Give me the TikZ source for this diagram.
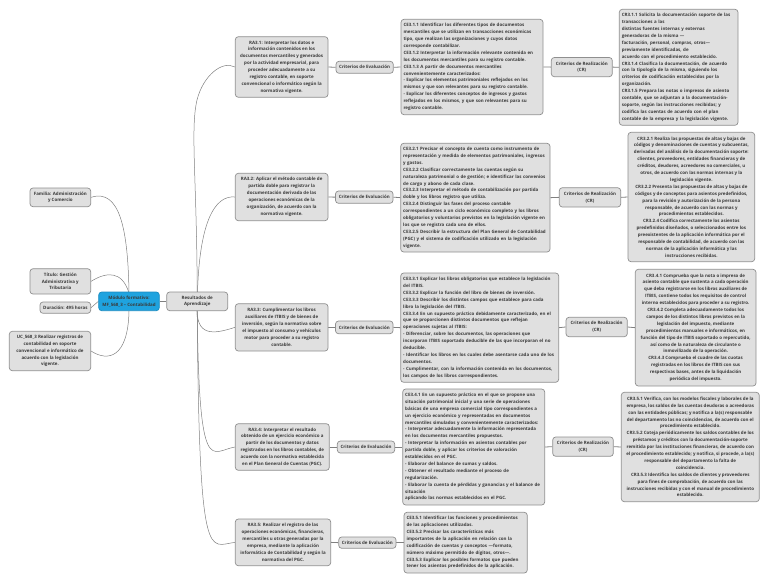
\documentclass[tikz,border=0pt]{standalone}
\usepackage{fontspec}
\setmainfont{Open Sans}
\usetikzlibrary{backgrounds}
\definecolor{boxfill}{HTML}{E0E0E0}
\definecolor{boxline}{HTML}{8F8F8F}
\definecolor{boxtext}{HTML}{3A3A3A}
\definecolor{corefill}{HTML}{1FA3DF}
\definecolor{coreline}{HTML}{1B8CC0}
\definecolor{linkgray}{HTML}{808080}
\tikzset{
  base/.style={rounded corners=3pt,draw=boxline,line width=0.7pt,fill=boxfill,text=boxtext,inner sep=0pt,
    font=\fontsize{4.45}{6.9}\selectfont\bfseries},
  cbox/.style={base,align=center},
  lbox/.style={base,align=left},
  core/.style={base,align=center,fill=corefill,draw=coreline},
  link/.style={draw=linkgray,line width=0.8pt},
  curve/.style={draw=linkgray,line width=0.5pt}
}
\newcommand{\bx}[7][cbox]{\node[#1,minimum width={(#5-#3)*1pt},minimum height={(#6-#4)*1pt}] (#2) at ({(#3+#5)/2},{(#4+#6)/2}) {#7};}
\newcommand{\lx}[6]{\node[lbox,text width={(#4-#2-5)*1pt},minimum height={(#5-#3)*1pt},inner xsep=2.5pt] (#1) at ({(#2+#4)/2},{(#3+#5)/2}) {#6};}
\begin{document}
\begin{tikzpicture}[x=1pt,y=-1pt]
\useasboundingbox (0,0) rectangle (768,582);

\bx[core]{core}{98.7}{292}{159.3}{310.7}{Módulo formativo:\\MF\_568\_3 – Contabilidad}
\bx{res}{166.7}{292}{227.7}{310.7}{Resultados de\\Aprendizaje}
\bx{fam}{30}{188}{90.7}{206.7}{Familia: Administración\\y Comercio}
\bx{tit}{30}{268.7}{90.7}{294}{Título: Gestión\\Administrativa y\\Tributaria}
\bx{dur}{40}{302}{90.7}{313.3}{Duración: 495 horas}
\bx{uc}{9.3}{331.3}{90.7}{370.7}{UC\_568\_3 Realizar registros de\\contabilidad en soporte\\convencional e informático de\\acuerdo con la legislación\\vigente.}

\bx{ra1}{235.3}{36.7}{328}{97.3}{RA3.1: Interpretar los datos e\\información contenidos en los\\documentos mercantiles y generados\\por la actividad empresarial, para\\proceder adecuadamente a su\\registro contable, en soporte\\convencional o informático según la\\normativa vigente.}
\bx{ce1c}{336}{61.3}{393.3}{73.3}{Criterios de Evaluación}
\lx{ce1}{401}{19.3}{543}{114.7}{CE3.1.1 Identificar los diferentes tipos de documentos\\mercantiles que se utilizan en transacciones económicas\\tipo, que realizan las organizaciones y cuyos datos\\corresponde contabilizar.\\CE3.1.2 Interpretar la información relevante contenida en\\los documentos mercantiles para su registro contable.\\CE3.1.3 A partir de documentos mercantiles\\convenientemente caracterizados:\\- Explicar los elementos patrimoniales reflejados en los\\mismos y que son relevantes para su registro contable.\\- Explicar los diferentes conceptos de ingresos y gastos\\reflejados en los mismos, y que son relevantes para su\\registro contable.}
\bx{cr1c}{551.3}{57.5}{612.3}{76.7}{Criterios de Realización\\(CR)}
\lx{cr1}{619.3}{9.3}{738}{125.3}{CR3.1.1 Solicita la documentación soporte de las\\transacciones a las\\distintas fuentes internas y externas\\generadoras de la misma —\\facturación, personal, compras, otros—\\previamente identificadas, de\\acuerdo con el procedimiento establecido.\\CR3.1.4 Clasifica la documentación, de acuerdo\\con la tipología de la misma, siguiendo los\\criterios de codificación establecidos por la\\organización.\\CR3.1.5 Prepara las notas o impresos de asiento\\contable, que se adjuntan a la documentación-\\soporte, según las instrucciones recibidas; y\\codifica las cuentas de acuerdo con el plan\\contable de la empresa y la legislación vigente.}

\bx{ra2}{235.3}{173.3}{328}{220.7}{RA3.2: Aplicar el método contable de\\partida doble para registrar la\\documentación derivada de las\\operaciones económicas de la\\organización, de acuerdo con la\\normativa vigente.}
\bx{ce2c}{335.5}{191}{393}{203.3}{Criterios de Evaluación}
\lx{ce2}{400.7}{143.3}{550}{252}{CE3.2.1 Precisar el concepto de cuenta como instrumento de\\representación y medida de elementos patrimoniales, ingresos\\y gastos.\\CE3.2.2 Clasificar correctamente las cuentas según su\\naturaleza patrimonial o de gestión; e identificar las convenios\\de cargo y abono de cada clase.\\CE3.2.3 Interpretar el método de contabilización por partida\\doble y los libros registro que utiliza.\\CE3.2.4 Distinguir las fases del proceso contable\\correspondientes a un ciclo económico completo y los libros\\obligatorios y voluntarios previstos en la legislación vigente en\\los que se registra cada uno de ellos.\\CE3.2.5 Describir la estructura del Plan General de Contabilidad\\(PGC) y el sistema de codificación utilizado en la legislación\\vigente.}
\bx{cr2c}{559.3}{187.7}{620.7}{207}{Criterios de Realización\\(CR)}
\bx{cr2}{628}{132.3}{754.7}{261.7}{CR3.2.1 Realiza las propuestas de altas y bajas de\\códigos y denominaciones de cuentas y subcuentas,\\derivadas del análisis de la documentación soporte:\\clientes, proveedores, entidades financieras y de\\créditos, deudores, acreedores no comerciales, u\\otros, de acuerdo con las normas internas y la\\legislación vigente.\\CR3.2.2 Presenta las propuestas de altas y bajas de\\códigos y de conceptos para asientos predefinidos,\\para la revisión y autorización de la persona\\responsable, de acuerdo con las normas y\\procedimientos establecidos.\\CR3.2.4 Codifica correctamente los asientos\\predefinidos diseñados, o seleccionados entre los\\preexistentes de la aplicación informática por el\\responsable de contabilidad, de acuerdo con las\\normas de la aplicación informática y las\\instrucciones recibidas.}

\bx{ra3}{235.3}{303.7}{328}{351}{RA3.3: Cumplimentar los libros\\auxiliares de ITBIS y de bienes de\\inversión, según la normativa sobre\\el impuesto al consumo y vehículos\\motor para proceder a su registro\\contable.}
\bx{ce3c}{335.5}{321}{393}{333.7}{Criterios de Evaluación}
\lx{ce3}{400.7}{273}{558.7}{382.3}{CE3.3.1 Explicar los libros obligatorios que establece la legislación\\del ITBIS.\\CE3.3.2 Explicar la función del libro de bienes de inversión.\\CE3.3.3 Describir los distintos campos que establece para cada\\libro la legislación del ITBIS.\\CE3.3.4 En un supuesto práctico debidamente caracterizado, en el\\que se proporcionen distintos documentos que reflejan\\operaciones sujetas al ITBIS:\\- Diferenciar, sobre los documentos, las operaciones que\\incorporan ITBIS soportado deducible de las que incorporan el no\\deducible.\\- Identificar los libros en los cuales debe asentarse cada uno de los\\documentos.\\- Cumplimentar, con la información contenida en los documentos,\\los campos de los libros correspondientes.}
\bx{cr3c}{566}{317.3}{627.3}{336.7}{Criterios de Realización\\(CR)}
\bx{cr3}{635.3}{269.3}{756}{386}{CR3.4.1 Comprueba que la nota o impreso de\\asiento contable que sustenta a cada operación\\que deba registrarse en los libros auxiliares de\\ITBIS, contiene todos los requisitos de control\\interno establecidos para proceder a su registro.\\CR3.4.2 Completa adecuadamente todos los\\campos de los distintos libros previstos en la\\legislación del impuesto, mediante\\procedimientos manuales e informáticos, en\\función del tipo de ITBIS soportado o repercutido,\\así como de la naturaleza de circulante o\\inmovilizado de la operación.\\CR3.4.3 Comprueba el cuadre de las cuotas\\registradas en los libros de ITBIS con sus\\respectivas bases, antes de la liquidación\\periódica del impuesto.}

\bx{ra4}{235.3}{423.7}{329.3}{470.3}{RA3.4: Interpretar el resultado\\obtenido de un ejercicio económico a\\partir de los documentos y datos\\registrados en los libros contables, de\\acuerdo con la normativa establecida\\en el Plan General de Cuentas (PGC).}
\bx{ce4c}{337.3}{441}{394.7}{453}{Criterios de Evaluación}
\lx{ce4}{402.7}{389}{544.7}{505}{CE3.4.1 En un supuesto práctico en el que se propone una\\situación patrimonial inicial y una serie de operaciones\\básicas de una empresa comercial tipo correspondientes a\\un ejercicio económico y representadas en documentos\\mercantiles simulados y convenientemente caracterizados:\\- Interpretar adecuadamente la información representada\\en los documentos mercantiles propuestos.\\- Interpretar la información en asientos contables por\\partida doble, y aplicar los criterios de valoración\\establecidos en el PGC.\\- Elaborar del balance de sumas y saldos.\\- Obtener el resultado mediante el proceso de\\regularización.\\- Elaborar la cuenta de pérdidas y ganancias y el balance de\\situación\\aplicando las normas establecidos en el PGC.}
\bx{cr4c}{552.7}{437}{613.3}{456.3}{Criterios de Realización\\(CR)}
\bx{cr4}{621.3}{392.3}{759.3}{501.7}{CR3.5.1 Verifica, con los modelos fiscales y laborales de la\\empresa, los saldos de las cuentas deudoras o acreedoras\\con las entidades públicas; y notifica a la(s) responsable\\del departamento las no coincidencias, de acuerdo con el\\procedimiento establecido.\\CR3.5.2 Coteja periódicamente los saldos contables de los\\préstamos y créditos con la documentación-soporte\\remitida por las instituciones financieras, de acuerdo con\\el procedimiento establecido; y notifica, si procede, a la(s)\\responsable del departamento la falta de\\coincidencia.\\CR3.5.3 Identifica los saldos de clientes y proveedores\\para fines de comprobación, de acuerdo con las\\instrucciones recibidas y con el manual de procedimiento\\establecido.}

\bx{ra5}{235.3}{519}{330.7}{565.7}{RA3.5: Realizar el registro de las\\operaciones económicas, financieras,\\mercantiles u otras generadas por la\\empresa, mediante la aplicación\\informática de Contabilidad y según la\\normativa del PGC.}
\bx{ce5c}{338.7}{537}{396}{548.3}{Criterios de Evaluación}
\lx{ce5}{404}{512.3}{527.3}{573}{CE3.5.1 Identificar las funciones y procedimientos\\de las aplicaciones utilizadas.\\CE3.5.2 Precisar las características más\\importantes de la aplicación en relación con la\\codificación de cuentas y conceptos —formato,\\número máximo permitido de dígitos, otros—.\\CE3.5.3 Explicar los posibles formatos que pueden\\tener los asientos predefinidos de la aplicación.}

\begin{scope}[on background layer]
\draw[link] (core.east) -- (res.west);
\foreach \i in {1,...,5} {
  \draw[link] (ra\i.east) -- (ce\i c.west);
  \draw[link] (ce\i c.east) -- (ce\i.west);
}
\foreach \i in {1,...,4} {
  \draw[link] (ce\i.east) -- (cr\i c.west);
  \draw[link] (cr\i c.east) -- (cr\i.west);
}
\draw[curve] (res.south) ++(0,-10) coordinate (hub1);
\draw[curve] (hub1) .. controls +(0,-120) and (190,130) .. (197,100) .. controls (203,76) and (222,60) .. (ra1.west);
\draw[curve] (res.south) .. controls +(0,-90) and +(-20,-2) .. (ra2.west);
\draw[curve] (res.south) .. controls +(0,28) and +(-16,5) .. (ra3.west);
\draw[curve] (res.south) .. controls +(2,170) and +(-24,4) .. (ra4.west);
\draw[curve] (res.south) .. controls +(2,260) and +(-26,3) .. (ra5.west);
\draw[curve] (core.south) ++(0,-18) coordinate (hub2);
\draw[curve] (fam.east) .. controls (120,188) and (128,230) .. (hub2);
\draw[curve] (tit.east) .. controls (106,272) and (122,270) .. (hub2);
\draw[curve] (dur.east) -- (core.west);
\draw[curve] (uc.east) .. controls (108,362) and (128,358) .. (core.south);
\end{scope}
\end{tikzpicture}
\end{document}
